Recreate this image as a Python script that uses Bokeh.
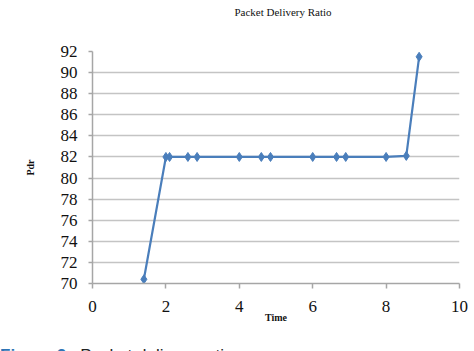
from bokeh.plotting import figure
from bokeh.models import Range1d, FixedTicker, Div
from bokeh.layouts import column
from bokeh.embed import file_html
from bokeh.resources import INLINE

# data
time = [1.4, 2.0, 2.1, 2.6, 2.85, 4.0, 4.6, 4.85, 6.0, 6.65, 6.9, 8.0, 8.55, 8.9]
pdr = [70.4, 82, 82, 82, 82, 82, 82, 82, 82, 82, 82, 82, 82.1, 91.5]
x_ticks = [0, 2, 4, 6, 8, 10]
y_ticks = [70, 72, 74, 76, 78, 80, 82, 84, 86, 88, 90, 92]
title_text = "Packet Delivery Ratio"

W = 474
TITLE_H = 24
FIG_H = 347 - TITLE_H
FRAME_BOTTOM = 283 - TITLE_H
serif = "Liberation Serif"

title = Div(
    text='<span style="position:relative;left:46px">%s</span>' % title_text,
    width=W, height=TITLE_H,
    styles={"font-family": serif, "font-size": "11px", "line-height": "24px",
            "text-align": "center", "color": "#111111", "margin": "0", "padding": "0",
            "white-space": "nowrap"})

p = figure(width=W, height=FIG_H, output_backend="svg", toolbar_location=None,
           x_range=Range1d(0, 10), y_range=Range1d(70, 92),
           min_border_left=92, min_border_right=15, min_border_top=51 - TITLE_H,
           min_border_bottom=FIG_H - FRAME_BOTTOM)
p.outline_line_color = None
p.background_fill_color = "white"
p.border_fill_color = "white"

for ax in (p.xaxis[0], p.yaxis[0]):
    ax.axis_line_color = "#a6a6a6"
    ax.major_tick_line_color = "#a6a6a6"
    ax.minor_tick_line_color = None
    ax.major_tick_in = 0
    ax.major_label_text_font = serif
    ax.major_label_text_font_size = "17px"
    ax.major_label_text_color = "#111111"
    ax.axis_line_width = 1.5
    ax.major_tick_line_width = 1.5
    ax.axis_label_text_font = serif
    ax.axis_label_text_font_size = "10px"
    ax.axis_label_text_font_style = "bold"
    ax.axis_label_text_color = "#111111"

p.xaxis[0].ticker = FixedTicker(ticks=x_ticks)
p.xaxis[0].major_tick_out = 5
p.xaxis[0].major_label_standoff = 12
p.xaxis[0].axis_label = "Time"
p.xaxis[0].axis_label_standoff = -3
p.yaxis[0].ticker = FixedTicker(ticks=y_ticks)
p.yaxis[0].major_tick_out = 4
p.yaxis[0].major_label_standoff = 11
p.yaxis[0].axis_label = "Pdr"
p.yaxis[0].axis_label_standoff = 22

p.xgrid.grid_line_color = None
p.ygrid.ticker = FixedTicker(ticks=y_ticks[1:])
p.ygrid.grid_line_color = "#c4c4c4"
p.ygrid.grid_line_width = 1.5

color = "#4a7ebb"
p.line(time, pdr, line_color=color, line_width=2.2)
p.scatter(time, pdr, marker="diamond", size=9, fill_color=color, line_color=color)

caption = Div(
    text='<span style="color:#2e74b5;font-weight:bold">Figure 2.</span>'
         '&nbsp; <span style="color:#222222">Packet delivery ratio</span>',
    width=W, height=351 - 347,
    styles={"font-family": "Liberation Sans", "font-size": "17px", "line-height": "17px",
            "margin": "0", "padding": "0", "overflow": "visible", "white-space": "nowrap"})

layout = column(title, p, caption, spacing=0)
open("out.html", "w").write(file_html(layout, INLINE))
